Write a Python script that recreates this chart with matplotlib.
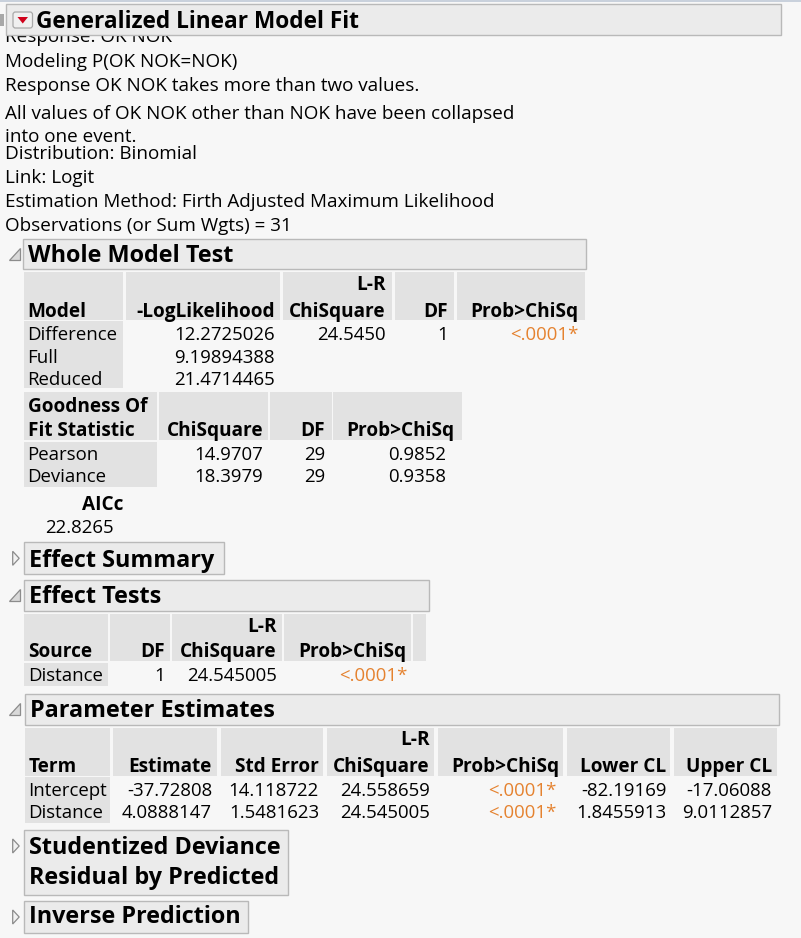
import matplotlib
matplotlib.use("Agg")
import matplotlib.pyplot as plt
from matplotlib.patches import Rectangle, Polygon, FancyBboxPatch

# ---------------- data ----------------
title = "Generalized Linear Model Fit"
info_lines = [
    "Response: OK NOK",
    "Modeling P(OK NOK=NOK)",
    "Response OK NOK takes more than two values.",
    "All values of OK NOK other than NOK have been collapsed",
    "into one event.",
    "Distribution: Binomial",
    "Link: Logit",
    "Estimation Method: Firth Adjusted Maximum Likelihood",
    "Observations (or Sum Wgts) = 31",
]

wm_models = ["Difference", "Full", "Reduced"]
wm_loglik = ["12.2725026", "9.19894388", "21.4714465"]
wm_chisq = ["24.5450", "", ""]
wm_df = ["1", "", ""]
wm_prob = ["<.0001*", "", ""]

gof_stats = ["Pearson", "Deviance"]
gof_chisq = ["14.9707", "18.3979"]
gof_df = ["29", "29"]
gof_prob = ["0.9852", "0.9358"]

aicc_value = "22.8265"

et_sources = ["Distance"]
et_df = ["1"]
et_chisq = ["24.545005"]
et_prob = ["<.0001*"]

pe_terms = ["Intercept", "Distance"]
pe_estimate = ["-37.72808", "4.0888147"]
pe_stderr = ["14.118722", "1.5481623"]
pe_chisq = ["24.558659", "24.545005"]
pe_prob = ["<.0001*", "<.0001*"]
pe_lower = ["-82.19169", "1.8455913"]
pe_upper = ["-17.06088", "9.0112857"]

# ---------------- style ----------------
FONT = ["Open Sans", "DejaVu Sans"]
BOLD = "bold"
BG = "#f7f7f7"
BOX_FILL = "#ebebeb"
BOX_EDGE = "#b9b9b9"
CELL = "#e2e2e2"
TXT = "#000000"
ORANGE = "#e5822f"

W, H = 801, 938
fig = plt.figure(figsize=(W / 100, H / 100), dpi=100)
fig.patch.set_facecolor(BG)
ax = fig.add_axes([0, 0, 1, 1])
ax.set_xlim(0, W)
ax.set_ylim(H, 0)
ax.axis("off")
ax.set_facecolor(BG)
renderer = fig.canvas.get_renderer()


def fit(sample, target, weight="normal"):
    t = ax.text(0, 0, sample, fontsize=10, fontweight=weight, family=FONT)
    w = t.get_window_extent(renderer=renderer).width
    t.remove()
    return 10 * target / w


FS_TITLE = fit(title, 323, BOLD)
FS_SEC = fit("Whole Model Test", 206, BOLD)
FS_BODY = fit(info_lines[7], 491)
FS_HEAD = fit("-LogLikelihood", 139, BOLD)
FS_DATA = fit("12.2725026", 100.7)


def txt(x, y, s, fs, weight="normal", ha="left", color=TXT, z=3):
    return ax.text(x, y, s, fontsize=fs, fontweight=weight, family=FONT, ha=ha,
                   va="baseline", color=color, zorder=z)


def box(x0, y0, x1, y1, fill, edge=None, z=2, lw=1.0):
    ax.add_patch(Rectangle((x0, y0), x1 - x0, y1 - y0, facecolor=fill,
                           edgecolor=edge if edge else "none", lw=lw, zorder=z))


def open_tri(xr, yb):
    ax.add_patch(Polygon([(xr, yb - 12), (xr, yb), (xr - 11, yb)], closed=True,
                         facecolor="#d9d9d9", edgecolor="#8c8c8c", lw=0.9, zorder=4))


def closed_tri(xl, yc):
    ax.add_patch(Polygon([(xl, yc - 7), (xl + 6.5, yc), (xl, yc + 7)], closed=True,
                         facecolor="#f2f2f2", edgecolor="#8c8c8c", lw=0.9, zorder=4))


def section(x0, y0, x1, y1, lines, baselines, kind):
    box(x0, y0, x1, y1, BOX_FILL, BOX_EDGE, z=5)
    for s, b in zip(lines, baselines):
        txt(x0 + 5, b, s, FS_SEC, BOLD, z=6)
    if kind == "open":
        open_tri(20, y0 + 21)
    else:
        closed_tri(12.7, y0 + 16)


def table(cols, head_top, head_bot, hl1, hl2, headers, rows_base, data, label_cells):
    for (x0, x1, _, _) in cols:
        box(x0, head_top, x1, head_bot, CELL, z=2)
    for i, (x0, x1, rh, rd) in enumerate(cols):
        l1, l2 = headers[i]
        if i == 0:
            if l1:
                txt(x0 + 4, hl1, l1, FS_HEAD, BOLD)
            txt(x0 + 4, hl2, l2, FS_HEAD, BOLD)
        else:
            if l1:
                txt(rh, hl1, l1, FS_HEAD, BOLD, ha="right")
            txt(rh, hl2, l2, FS_HEAD, BOLD, ha="right")
    y0, y1 = label_cells
    box(cols[0][0], y0, cols[0][1], y1, CELL, z=2)
    for i, (x0, x1, rh, rd) in enumerate(cols):
        for r, b in enumerate(rows_base):
            s = data[i][r]
            if not s:
                continue
            col = ORANGE if s.startswith("<") else TXT
            if i == 0:
                txt(x0 + 4, b, s, FS_DATA)
            else:
                txt(rd, b, s, FS_DATA, ha="right", color=col)


# top strip
box(0, 0, W, 2, "#c9d1dc", z=1)
ax.add_patch(Polygon([(0, 14), (4, 14), (4, 26), (0, 26)], closed=True,
                     facecolor="#a8a8a8", edgecolor="none", zorder=4))

# ---------------- header ----------------
box(6, 4, 781, 35, BOX_FILL, BOX_EDGE, z=5)
ax.add_patch(FancyBboxPatch((13, 12), 19.5, 16, boxstyle="round,pad=0,rounding_size=2.5",
                            facecolor="#f0f0f0", edgecolor="#a9a9a9", lw=0.9, zorder=6))
ax.add_patch(Polygon([(17.5, 17), (28, 17), (22.75, 23.5)], closed=True,
                     facecolor="#d0021b", edgecolor="none", zorder=7))
txt(36.5, 27.5, title, FS_TITLE, BOLD, z=6)

info_base = [41.7, 66.7, 90.7, 119, 141.7, 159, 182.7, 206.7, 230.7]
for i, (s, b) in enumerate(zip(info_lines, info_base)):
    t = txt(5, b, s, FS_BODY, z=3)
    if i == 0:
        # the first line is partly hidden under the header box
        t.set_clip_box(matplotlib.transforms.Bbox.from_extents(0, 0, W, H - 35.5))

# ---------------- Whole Model Test ----------------
section(23, 239, 586, 269, ["Whole Model Test"], [261.7], "open")
wm_cols = [(23.5, 122.5, 0, 0), (125.5, 280, 275, 275), (283, 391.5, 386, 386),
           (394.5, 454, 448, 448), (456.5, 585, 578.5, 578.5)]
wm_headers = [("", "Model"), ("", "-LogLikelihood"), ("L-R", "ChiSquare"),
              ("", "DF"), ("", "Prob>ChiSq")]
table(wm_cols, 272, 320, 290, 316.7, wm_headers, [340, 362.7, 385],
      [wm_models, wm_loglik, wm_chisq, wm_df, wm_prob], (321.5, 388.5))

gof_cols = [(23.5, 157.3, 0, 0), (159.3, 268.3, 263.3, 263.3), (270, 331.7, 325, 325),
            (333, 461.7, 454.5, 446.5)]
gof_headers = [("Goodness Of", "Fit Statistic"), ("", "ChiSquare"), ("", "DF"),
               ("", "Prob>ChiSq")]
table(gof_cols, 392.5, 440.5, 411.7, 435.7, gof_headers, [460, 482.3],
      [gof_stats, gof_chisq, gof_df, gof_prob], (441.7, 486.7))

txt(123.3, 510, "AICc", FS_HEAD, BOLD, ha="right")
txt(113.3, 533.3, aicc_value, FS_DATA, ha="right")

# ---------------- Effect Summary ----------------
section(24.3, 542.3, 224.3, 574.3, ["Effect Summary"], [566.7], "closed")

# ---------------- Effect Tests ----------------
section(24, 580, 429, 611, ["Effect Tests"], [602.7], "open")
et_cols = [(24, 108.3, 0, 0), (110, 170, 165, 165), (171.7, 281.7, 276.7, 276.7),
           (284, 410.7, 406, 407)]
et_headers = [("", "Source"), ("", "DF"), ("L-R", "ChiSquare"), ("", "Prob>ChiSq")]
table(et_cols, 614.3, 661, 631.7, 657.3, et_headers, [681],
      [et_sources, et_df, et_chisq, et_prob], (663.3, 685.7))
box(413.3, 614.3, 426, 661, CELL, z=2)

# ---------------- Parameter Estimates ----------------
section(24.5, 694, 779, 725, ["Parameter Estimates"], [716.7], "open")
pe_cols = [(24.5, 109.8, 0, 0), (113.4, 217, 212, 212), (220.6, 322.8, 319, 319),
           (326.9, 434, 430, 430), (438, 563, 559, 556.7), (567, 670, 666.5, 666.5),
           (674, 777, 772, 772)]
pe_headers = [("", "Term"), ("", "Estimate"), ("", "Std Error"), ("L-R", "ChiSquare"),
              ("", "Prob>ChiSq"), ("", "Lower CL"), ("", "Upper CL")]
table(pe_cols, 728.3, 776, 745, 771.7, pe_headers, [796, 818.3],
      [pe_terms, pe_estimate, pe_stderr, pe_chisq, pe_prob, pe_lower, pe_upper],
      (777.3, 822.7))

# ---------------- closed sections ----------------
section(24, 830, 288.3, 895, ["Studentized Deviance", "Residual by Predicted"],
        [854.3, 884], "closed")
section(24, 901, 248.3, 932.7, ["Inverse Prediction"], [922.7], "closed")

fig.savefig("out.png", dpi=100, facecolor=BG)
